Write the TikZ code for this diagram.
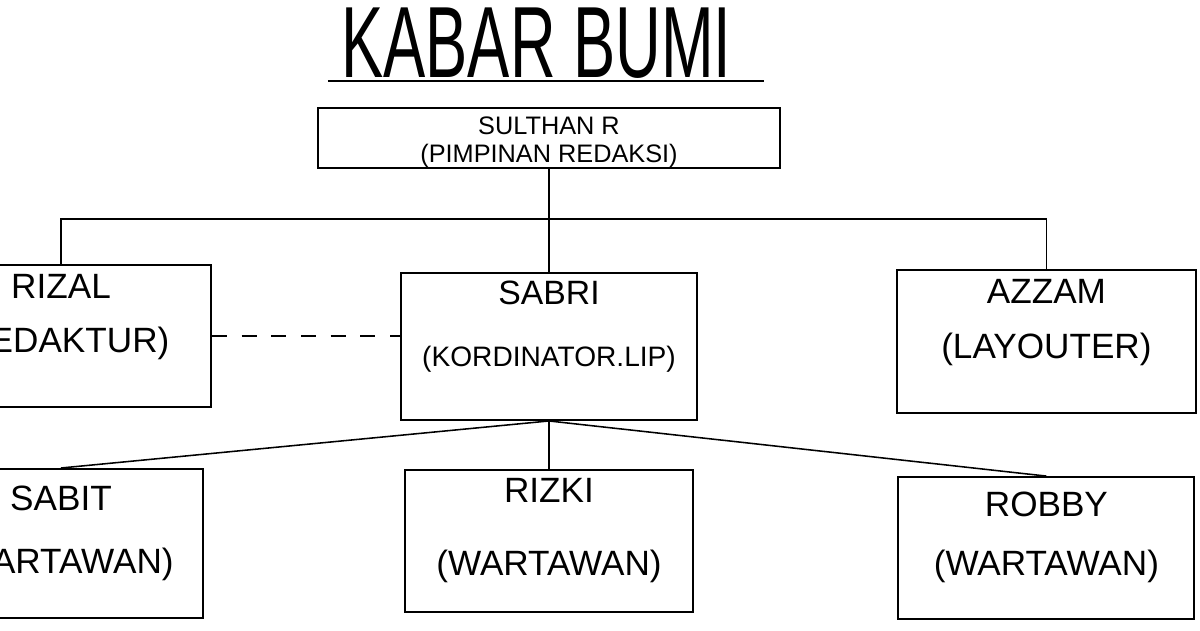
\documentclass[tikz,border=0pt]{standalone}
\usepackage{graphicx}
\usepackage{fontspec}
\setmainfont{Liberation Sans}
\usetikzlibrary{positioning}

\begin{document}
\begin{tikzpicture}[
    node distance=1.2cm,
    staff/.style={rectangle, draw=black, line width=1.4pt, minimum width=7.4cm, minimum height=3.6cm, inner sep=2pt, align=center, font=\fontsize{25}{30}\selectfont},
    toprow/.style={staff, text depth=32pt},
    lowrow/.style={staff, text depth=20pt},
    chief/.style={rectangle, draw=black, line width=1.4pt, minimum width=11.55cm, minimum height=1.5cm, inner sep=0pt, text height=35pt, text depth=0pt, align=center, font=\fontsize{18}{20}\selectfont},
    link/.style={line width=1.1pt, black},
    dashlink/.style={link, dash pattern=on 0.375cm off 0.367cm}
]
\useasboundingbox[fill=white] (0,0) rectangle (30,-15.75);
\clip (0,0) rectangle (30,-15.75);

\node[inner sep=0pt, font=\fontsize{45}{50}\selectfont] (title) at (13.41,-1.09) {\scalebox{1}[1.6]{KABAR BUMI}};
\node[chief] (sultan) at (13.725,-3.45) {SULTHAN R\\(PIMPINAN REDAKSI)};

\node[toprow, below=2.575cm of sultan, minimum height=3.675cm, font=\fontsize{20}{24}\selectfont] (sabri) {{\fontsize{24}{28}\selectfont SABRI}\\[20pt](KORDINATOR.LIP)};
\node[toprow, minimum width=7.5cm, minimum height=3.55cm] (rizal) at (1.525,-8.4) {RIZAL\\[8pt](REDAKTUR)};
\node[toprow, minimum width=7.475cm, minimum height=3.575cm] (azzam) at (26.16,-8.54) {AZZAM\\[9pt](LAYOUTER)};

\node[lowrow, below=1.5cm of rizal, minimum width=7.1cm, minimum height=3.725cm] (sabit) {SABIT\\[15pt](WARTAWAN)};
\node[lowrow, below=1.2cm of sabri, minimum width=7.2cm, minimum height=3.55cm] (rizki) {RIZKI\\[22pt](WARTAWAN)};
\node[lowrow, below=1.55cm of azzam, minimum height=3.55cm] (robby) {ROBBY\\[12pt](WARTAWAN)};

\draw[link] ([xshift=-0.33cm,yshift=-0.05cm]title.south west) -- ([xshift=0.8cm,yshift=-0.05cm]title.south east);

\path (sultan.south) ++(0,-1.25) coordinate (bus);
\draw[link] (sultan) -- (sabri);
\draw[link] (rizal.north) -- (rizal.north |- bus) -- (azzam.north |- bus) -- (azzam.north);
\draw[dashlink] (rizal.east) -- (rizal.east -| sabri.west);
\draw[link] (sabri.south) -- (sabit.north);
\draw[link] (sabri.south) -- (rizki.north);
\draw[link] (sabri.south) -- (robby.north);

\end{tikzpicture}
\end{document}
